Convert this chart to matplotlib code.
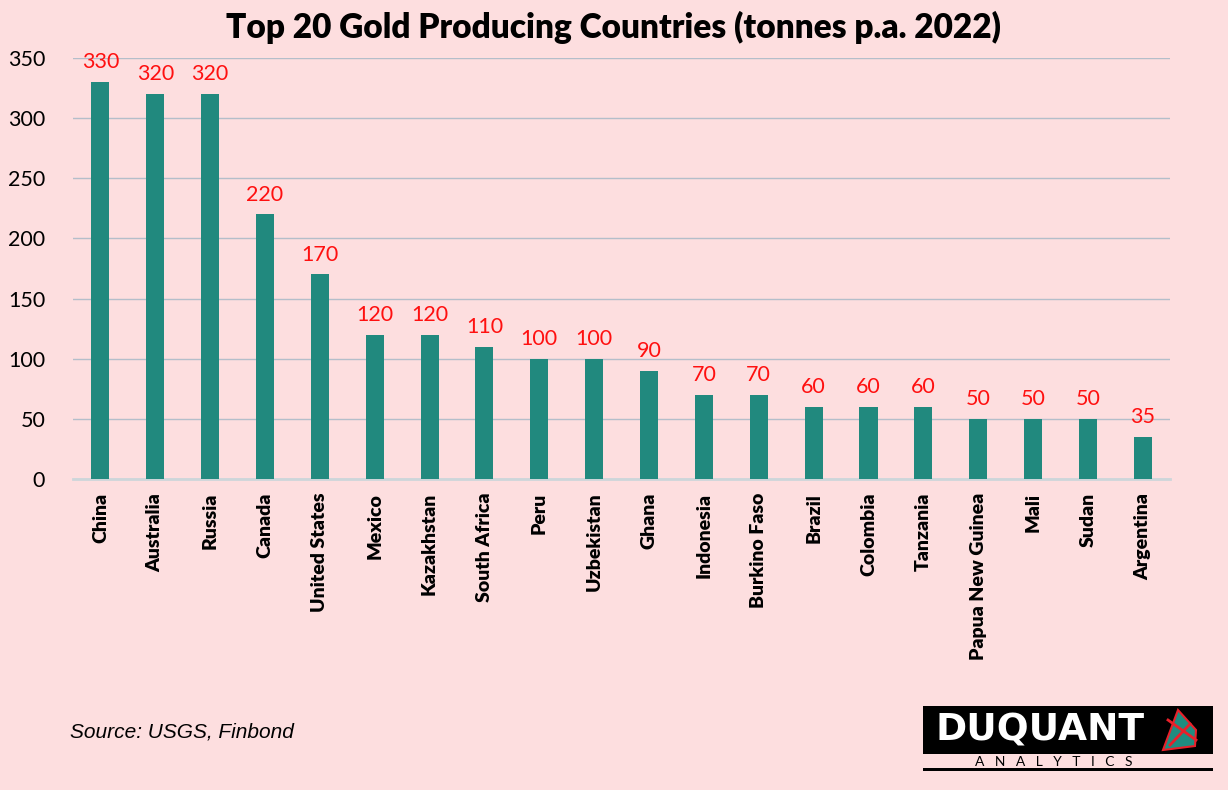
import matplotlib.pyplot as plt
from matplotlib.patches import Rectangle, Polygon

countries = ['China', 'Australia', 'Russia', 'Canada', 'United States', 'Mexico',
             'Kazakhstan', 'South Africa', 'Peru', 'Uzbekistan', 'Ghana', 'Indonesia',
             'Burkino Faso', 'Brazil', 'Colombia', 'Tanzania', 'Papua New Guinea',
             'Mali', 'Sudan', 'Argentina']
tonnes = [330, 320, 320, 220, 170, 120, 120, 110, 100, 100, 90, 70, 70, 60, 60, 60,
          50, 50, 50, 35]

bg = '#FDDEDF'
plt.rcParams['font.family'] = ['Lato', 'DejaVu Sans']

fig = plt.figure(figsize=(12.28, 7.9), dpi=100, facecolor=bg)
ax = fig.add_axes([0.0594, 0.3937, 0.8936, 0.5329])
ax.set_facecolor(bg)

x = range(len(countries))
ax.bar(x, tonnes, width=0.33, color='#21897E', zorder=3)
for i, v in zip(x, tonnes):
    ax.text(i, v + 8, str(v), ha='center', va='bottom', color='#FF1010',
            fontsize=15.5, clip_on=False)

ax.set_xlim(-0.5, len(countries) - 0.5)
ax.set_ylim(0, 350)
ax.set_yticks(range(0, 351, 50))
ax.grid(axis='y', color='#B4BECA', linewidth=1, zorder=0)
for s in ['top', 'right', 'left']:
    ax.spines[s].set_visible(False)
ax.spines['bottom'].set_color('#CDD6DA')
ax.spines['bottom'].set_linewidth(2)
ax.tick_params(axis='y', length=0, labelsize=15.5, pad=20)
ax.tick_params(axis='x', length=0, pad=10)
ax.set_xticks(list(x))
ax.set_xticklabels(countries, rotation=90, fontsize=14, fontweight='heavy')

fig.text(0.5, 0.965, 'Top 20 Gold Producing Countries (tonnes p.a. 2022)',
         ha='center', va='center', fontsize=24, fontweight='heavy')
fig.text(0.057, 0.074, 'Source: USGS, Finbond', ha='left', va='center',
         fontsize=15, style='italic', family=['Liberation Sans', 'DejaVu Sans'])

# logo
W, H = 1228, 790
def fx(px):
    return px / W
def fy(py):
    return 1 - py / H

fig.patches.append(Rectangle((fx(923), fy(754)), fx(1213) - fx(923), fy(706) - fy(754),
                             transform=fig.transFigure, facecolor='black', zorder=5))
fig.text(fx(1040), fy(730), 'DUQUANT', ha='center', va='center', color='white',
         fontsize=27, fontweight='black', family=['DejaVu Sans'], zorder=6)
tri = [(fx(1163), fy(750)), (fx(1178), fy(710)), (fx(1196), fy(730)), (fx(1195), fy(746))]
fig.patches.append(Polygon(tri, closed=True, transform=fig.transFigure,
                           facecolor='#1F8C80', edgecolor='#E8202A', linewidth=1.5, zorder=6))
fig.lines.append(plt.Line2D([fx(1168), fx(1196)], [fy(720), fy(740)],
                            transform=fig.transFigure, color='#E8202A', lw=2, zorder=7))
fig.lines.append(plt.Line2D([fx(1170), fx(1190)], [fy(745), fy(724)],
                            transform=fig.transFigure, color='#E8202A', lw=2, zorder=7))
fig.text(fx(1054), fy(762), 'A   N   A   L   Y   T   I   C   S', ha='center', va='center',
         color='black', fontsize=10, zorder=6)
fig.patches.append(Rectangle((fx(923), fy(771)), fx(1213) - fx(923), 3 / H,
                             transform=fig.transFigure, facecolor='black', zorder=5))

fig.savefig('out.png', dpi=100, facecolor=bg)
